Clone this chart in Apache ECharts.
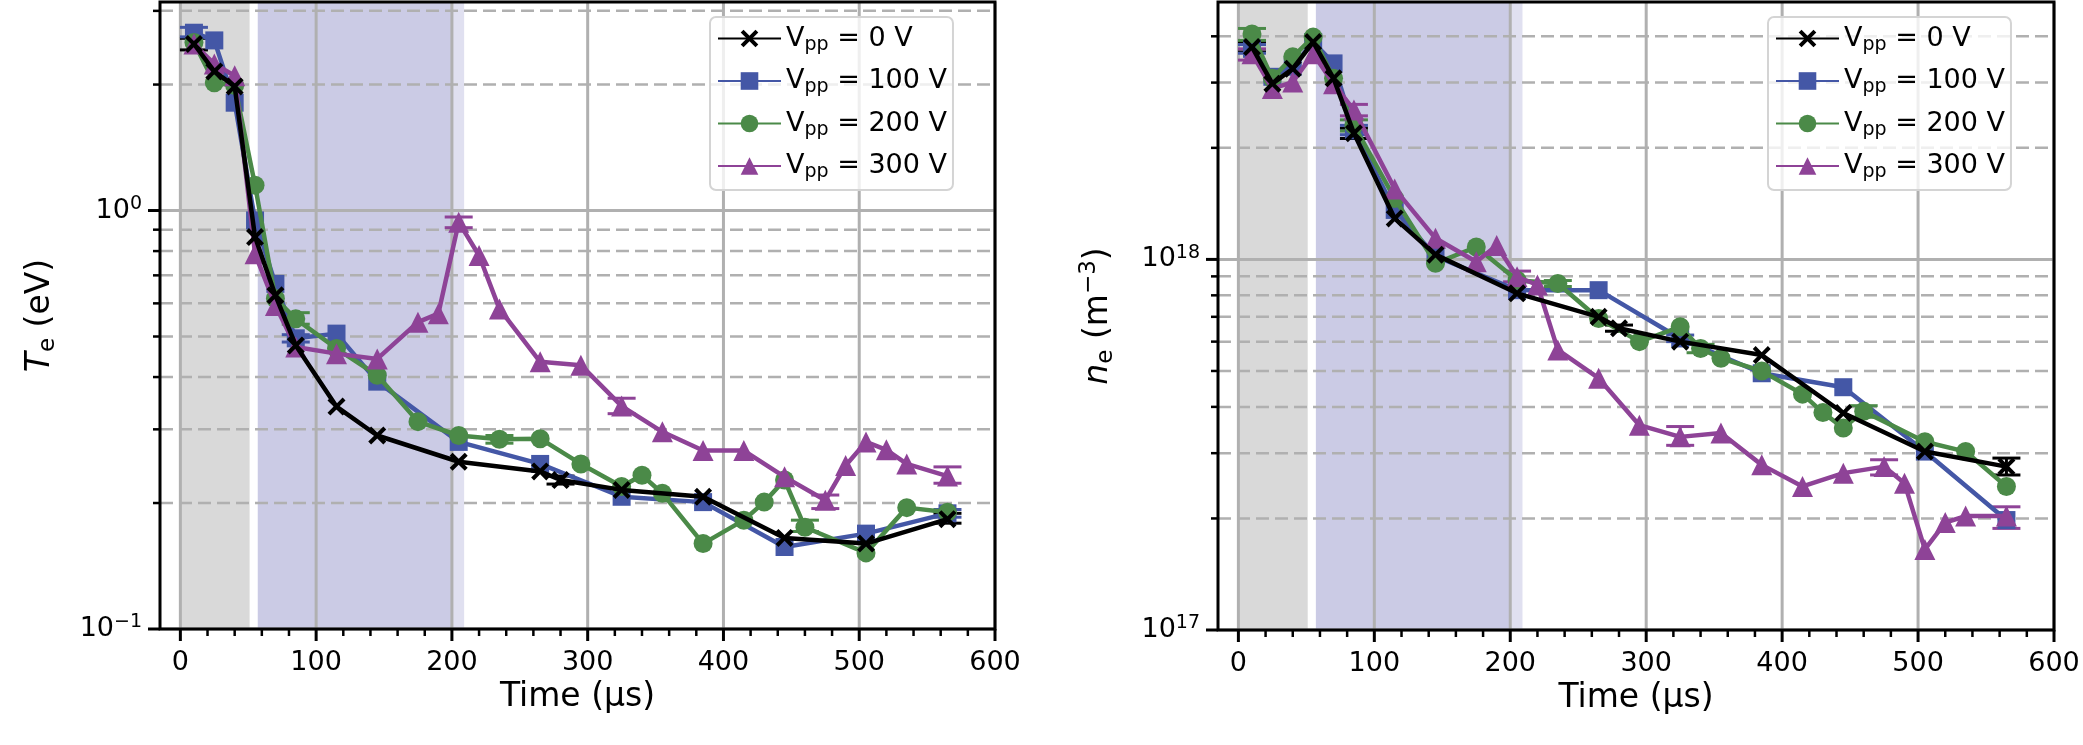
<!DOCTYPE html>
<html>
<head>
<meta charset="utf-8">
<title>Te and ne decay</title>
<script src="https://cdn.jsdelivr.net/npm/echarts@6/dist/echarts.min.js"></script>
<style>
  html, body { margin: 0; padding: 0; background: #fff; }
  #chart { width: 2083px; height: 745px; }
</style>
</head>
<body>
<div id="chart"></div>
<script>
// ---- values ----
const seriesNames = ['Vpp = 0 V', 'Vpp = 100 V', 'Vpp = 200 V', 'Vpp = 300 V'];
const voltLabels = ['0', '100', '200', '300'];

// time points (µs) of each series, same in both panels
const t0 = [10, 25, 40, 55, 70, 85, 115, 145, 205, 265, 280, 325, 385, 445, 505, 565];
const t100 = [10, 25, 40, 55, 70, 85, 115, 145, 205, 265, 325, 385, 445, 505, 565];
const t200 = [10, 25, 40, 55, 70, 85, 115, 145, 175, 205, 235, 265, 295, 325, 340, 355, 385, 415, 430, 445, 460, 505, 535, 565];
const t300 = [10, 25, 40, 55, 70, 85, 115, 145, 175, 190, 205, 220, 235, 265, 295, 325, 355, 385, 415, 445, 475, 490, 505, 520, 535, 565];

// panel a: electron temperature (eV)
const te0 = [2.50, 2.15, 1.98, 0.864, 0.627, 0.476, 0.340, 0.290, 0.251, 0.238, 0.227, 0.215, 0.207, 0.165, 0.160, 0.183];
const te100 = [2.66, 2.55, 1.81, 0.947, 0.668, 0.495, 0.508, 0.390, 0.280, 0.248, 0.207, 0.201, 0.157, 0.169, 0.189];
const te200 = [2.52, 2.02, 1.99, 1.15, 0.616, 0.551, 0.468, 0.404, 0.313, 0.290, 0.284, 0.285, 0.248, 0.219, 0.233, 0.211, 0.160, 0.182, 0.201, 0.227, 0.175, 0.152, 0.195, 0.190];
const te300 = [2.50, 2.24, 2.10, 0.788, 0.593, 0.472, 0.455, 0.442, 0.541, 0.567, 0.938, 0.781, 0.582, 0.435, 0.427, 0.341, 0.296, 0.267, 0.267, 0.231, 0.203, 0.246, 0.280, 0.268, 0.248, 0.232];

// panel b: electron density (m^-3)
const ne0 = [3.74e18, 2.98e18, 3.27e18, 3.86e18, 3.08e18, 2.19e18, 1.29e18, 1.03e18, 8.1e17, 7.0e17, 6.52e17, 6.0e17, 5.52e17, 3.85e17, 3.03e17, 2.76e17];
const ne100 = [3.70e18, 3.11e18, 3.31e18, 3.86e18, 3.38e18, 2.23e18, 1.36e18, 1.02e18, 8.26e17, 8.26e17, 6.12e17, 4.93e17, 4.52e17, 3.03e17, 1.98e17];
const ne200 = [4.06e18, 3.08e18, 3.52e18, 3.98e18, 3.08e18, 2.30e18, 1.46e18, 9.76e17, 1.08e18, 8.79e17, 8.61e17, 6.93e17, 6.0e17, 6.58e17, 5.75e17, 5.41e17, 5.0e17, 4.33e17, 3.86e17, 3.51e17, 3.89e17, 3.22e17, 3.03e17, 2.44e17];
const ne300 = [3.59e18, 2.89e18, 3.01e18, 3.59e18, 2.98e18, 2.53e18, 1.55e18, 1.14e18, 9.86e17, 1.09e18, 8.98e17, 8.53e17, 5.70e17, 4.78e17, 3.57e17, 3.32e17, 3.40e17, 2.79e17, 2.44e17, 2.65e17, 2.76e17, 2.49e17, 1.65e17, 1.95e17, 2.03e17, 2.03e17];

// visible error bars: [time, low, high]
const te0Err = [[10, 2.42, 2.58], [280, 0.222, 0.232], [565, 0.179, 0.189]];
const te100Err = [[10, 2.60, 2.74], [85, 0.485, 0.505], [565, 0.185, 0.193]];
const te200Err = [[85, 0.535, 0.570], [235, 0.278, 0.290], [460, 0.171, 0.182]];
const te300Err = [[205, 0.91, 0.965], [325, 0.327, 0.356], [475, 0.194, 0.209], [565, 0.223, 0.244]];
const ne0Err = [[10, 3.63e18, 3.86e18], [85, 2.12e18, 2.26e18], [280, 6.4e17, 6.65e17], [565, 2.62e17, 2.91e17]];
const ne100Err = [[10, 3.60e18, 3.80e18], [85, 2.17e18, 2.30e18], [325, 6.0e17, 6.25e17]];
const ne200Err = [[10, 3.90e18, 4.20e18], [85, 2.22e18, 2.38e18], [235, 8.45e17, 8.77e17], [340, 5.6e17, 5.9e17], [460, 3.75e17, 4.03e17]];
const ne300Err = [[10, 3.45e18, 3.70e18], [85, 2.44e18, 2.62e18], [205, 8.7e17, 9.3e17], [325, 3.15e17, 3.54e17], [475, 2.62e17, 2.88e17], [565, 1.88e17, 2.15e17]];

// shaded time windows (µs)
const spanGrey = [-1, 51];
const spanBlue = [57, 200];
const spanBlueEdge = [200, 209];

// axes
const X_MIN = -15, X_MAX = 600;
const TE_MIN = 0.1, TE_MAX = 3.15;
const NE_MIN = 1e17, NE_MAX = 4.95e18;
const xTicks = [0, 100, 200, 300, 400, 500, 600];
const xMinorTicks = [];
for (let v = 20; v < 600; v += 20) if (v % 100) xMinorTicks.push(v);
const teTicks = [0.1, 1];
const teMinorTicks = [0.2, 0.3, 0.4, 0.5, 0.6, 0.7, 0.8, 0.9, 2, 3];
const neTicks = [1e17, 1e18];
const neMinorTicks = [2e17, 3e17, 4e17, 5e17, 6e17, 7e17, 8e17, 9e17, 2e18, 3e18, 4e18];

// ---- styles ----
const FONT = 'DejaVu Sans';
const GRID_C = '#b0b0b0';
const colors = ['#000000', '#4457a6', '#4b8a48', '#8e4397'];
const symbols = [
  'path://M1.6,0L5,3.4L8.4,0L10,1.6L6.6,5L10,8.4L8.4,10L5,6.6L1.6,10L0,8.4L3.4,5L0,1.6Z',
  'rect', 'circle', 'triangle'
];
const symbolSizes = [18, 18, 19, 21];
const zOrder = [7, 4, 5, 6];

let chart = echarts.init(document.getElementById('chart'));

function line(p, q, stroke, width, dash) {
  return { type: 'line', shape: { x1: p[0], y1: p[1], x2: q[0], y2: q[1] },
    style: { stroke: stroke, lineWidth: width, lineDash: dash || null } };
}

// shaded windows, grid lines, frame + ticks for one panel
function decor(gi, yMin, yMax, yMajor, yMinor) {
  const spans = {
    type: 'custom', xAxisIndex: gi, yAxisIndex: gi, z: 1, silent: true,
    data: [[0, yMin]],
    renderItem: (params, api) => {
      const rects = [[spanGrey, '#d9d9d9'], [spanBlue, '#cbcbe5'], [spanBlueEdge, '#e0e0f0']];
      return { type: 'group', children: rects.map(r => {
        const a = api.coord([r[0][0], yMax]), b = api.coord([r[0][1], yMin]);
        return { type: 'rect', shape: { x: a[0], y: a[1], width: b[0] - a[0], height: b[1] - a[1] },
          style: { fill: r[1] } };
      }) };
    }
  };
  const grid = {
    type: 'custom', xAxisIndex: gi, yAxisIndex: gi, z: 2, silent: true,
    data: [[0, yMin]],
    renderItem: (params, api) => {
      const ch = [];
      xTicks.forEach(v => ch.push(line(api.coord([v, yMin]), api.coord([v, yMax]), GRID_C, 3)));
      yMinor.forEach(v => ch.push(line(api.coord([X_MIN, v]), api.coord([X_MAX, v]), GRID_C, 2.5, [13, 6])));
      yMajor.forEach(v => ch.push(line(api.coord([X_MIN, v]), api.coord([X_MAX, v]), GRID_C, 3)));
      return { type: 'group', children: ch };
    }
  };
  const frame = {
    type: 'custom', xAxisIndex: gi, yAxisIndex: gi, z: 10, silent: true, clip: false,
    data: [[0, yMin]],
    renderItem: (params, api) => {
      const tl = api.coord([X_MIN, yMax]), br = api.coord([X_MAX, yMin]);
      const ch = [{ type: 'rect', shape: { x: tl[0], y: tl[1], width: br[0] - tl[0], height: br[1] - tl[1] },
        style: { fill: null, stroke: '#000', lineWidth: 3 } }];
      xTicks.forEach(v => { const p = api.coord([v, yMin]); ch.push(line(p, [p[0], p[1] + 12], '#000', 3)); });
      xMinorTicks.forEach(v => { const p = api.coord([v, yMin]); ch.push(line(p, [p[0], p[1] + 7], '#000', 2.5)); });
      yMajor.forEach(v => { const p = api.coord([X_MIN, v]); ch.push(line(p, [p[0] - 12, p[1]], '#000', 3)); });
      yMinor.forEach(v => { const p = api.coord([X_MIN, v]); ch.push(line(p, [p[0] - 7, p[1]], '#000', 2.5)); });
      return { type: 'group', children: ch };
    }
  };
  return [spans, grid, frame];
}

function dataSeries(gi, times, values) {
  return times.map((t, k) => ({
    name: seriesNames[k], type: 'line', xAxisIndex: gi, yAxisIndex: gi, z: zOrder[k],
    symbol: symbols[k], symbolSize: symbolSizes[k],
    lineStyle: { color: colors[k], width: 4.5 },
    itemStyle: { color: colors[k] },
    data: t.map((x, j) => [x, values[k][j]])
  }));
}

function errSeries(gi, lists) {
  return lists.map((list, k) => ({
    type: 'custom', xAxisIndex: gi, yAxisIndex: gi, z: 3, silent: true,
    data: list,
    renderItem: (params, api) => {
      const lo = api.coord([api.value(0), api.value(1)]);
      const hi = api.coord([api.value(0), api.value(2)]);
      const c = colors[k], w = 14;
      return { type: 'group', children: [
        line(lo, hi, c, 3),
        line([lo[0] - w, lo[1]], [lo[0] + w, lo[1]], c, 3),
        line([hi[0] - w, hi[1]], [hi[0] + w, hi[1]], c, 3)
      ] };
    }
  }));
}

function powLabel(v) {
  const e = Math.round(Math.log10(v));
  if (Math.abs(v - Math.pow(10, e)) / v > 1e-6) return '';
  return '{b|10}{s|' + (e < 0 ? '\u2212' + (-e) : e) + '}';
}

const tickRich = {
  b: { fontFamily: FONT, fontSize: 27, color: '#000', lineHeight: 32 },
  s: { fontFamily: FONT, fontSize: 19, color: '#000', lineHeight: 13, verticalAlign: 'top' }
};
const nameRich = {
  i: { fontFamily: FONT, fontSize: 33, fontStyle: 'italic', color: '#000', lineHeight: 40 },
  n: { fontFamily: FONT, fontSize: 33, color: '#000', lineHeight: 40 },
  sub: { fontFamily: FONT, fontSize: 23, color: '#000', lineHeight: 20, verticalAlign: 'bottom' },
  sup: { fontFamily: FONT, fontSize: 23, color: '#000', lineHeight: 18, verticalAlign: 'top' }
};

function xAxis(gi) {
  return {
    gridIndex: gi, type: 'value', min: X_MIN, max: X_MAX,
    axisLine: { show: false }, axisTick: { show: false }, splitLine: { show: false },
    axisLabel: { formatter: v => (v >= 0 && v % 100 === 0 ? String(v) : ''), fontFamily: FONT,
      fontSize: 27, color: '#000', margin: 20 },
    name: 'Time (\u00b5s)', nameLocation: 'middle', nameGap: 50,
    nameTextStyle: { fontFamily: FONT, fontSize: 33, color: '#000' }
  };
}

function yAxis(gi, min, max, name) {
  return {
    gridIndex: gi, type: 'log', logBase: 10, min: min, max: max,
    axisLine: { show: false }, axisTick: { show: false }, splitLine: { show: false }, minorSplitLine: { show: false },
    axisLabel: { formatter: powLabel, rich: tickRich, margin: 18 },
    name: name, nameLocation: 'middle', nameRotate: 90, nameGap: 100,
    nameTextStyle: { rich: nameRich }
  };
}

function legend(left) {
  return {
    orient: 'vertical', left: left, top: 17, padding: [8, 6, 8, 7], itemGap: 13,
    itemWidth: 63, itemHeight: 22, selectedMode: false,
    backgroundColor: 'rgba(255,255,255,0.8)', borderColor: '#d4d4d4', borderWidth: 2, borderRadius: 6,
    data: seriesNames,
    formatter: n => '{n|V}{s|pp}{n| = ' + voltLabels[seriesNames.indexOf(n)] + ' V}',
    textStyle: { rich: {
      n: { fontFamily: FONT, fontSize: 27, color: '#000', lineHeight: 32 },
      s: { fontFamily: FONT, fontSize: 19, color: '#000', lineHeight: 16, verticalAlign: 'bottom' }
    } }
  };
}

function panelTag(x, y, txt) {
  return { type: 'group', left: x, top: y, z: 20, children: [
    { type: 'rect', shape: { x: 0, y: 0, width: 58, height: 72, r: 10 },
      style: { fill: '#fff', stroke: '#000', lineWidth: 3 } },
    { type: 'text', x: 29, y: 36, style: { text: txt, font: '32px "DejaVu Sans"', fill: '#000',
      align: 'center', verticalAlign: 'middle' } }
  ] };
}

chart.setOption({
  animation: false,
  textStyle: { fontFamily: FONT },
  grid: [
    { left: 160, top: 2, width: 835, height: 627 },
    { left: 1218, top: 2, width: 836, height: 628 }
  ],
  legend: [legend(710), legend(1768)],
  xAxis: [xAxis(0), xAxis(1)],
  yAxis: [
    yAxis(0, TE_MIN, TE_MAX, '{i|T}{sub|e}{n| (eV)}'),
    yAxis(1, NE_MIN, NE_MAX, '{i|n}{sub|e}{n| (m}{sup|\u22123}{n|)}')
  ],
  graphic: [panelTag(180, 538, 'a'), panelTag(1238, 538, 'b')],
  series: [].concat(
    decor(0, TE_MIN, TE_MAX, teTicks, teMinorTicks),
    errSeries(0, [te0Err, te100Err, te200Err, te300Err]),
    dataSeries(0, [t0, t100, t200, t300], [te0, te100, te200, te300]),
    decor(1, NE_MIN, NE_MAX, neTicks, neMinorTicks),
    errSeries(1, [ne0Err, ne100Err, ne200Err, ne300Err]),
    dataSeries(1, [t0, t100, t200, t300], [ne0, ne100, ne200, ne300])
  )
});
</script>
</body>
</html>
